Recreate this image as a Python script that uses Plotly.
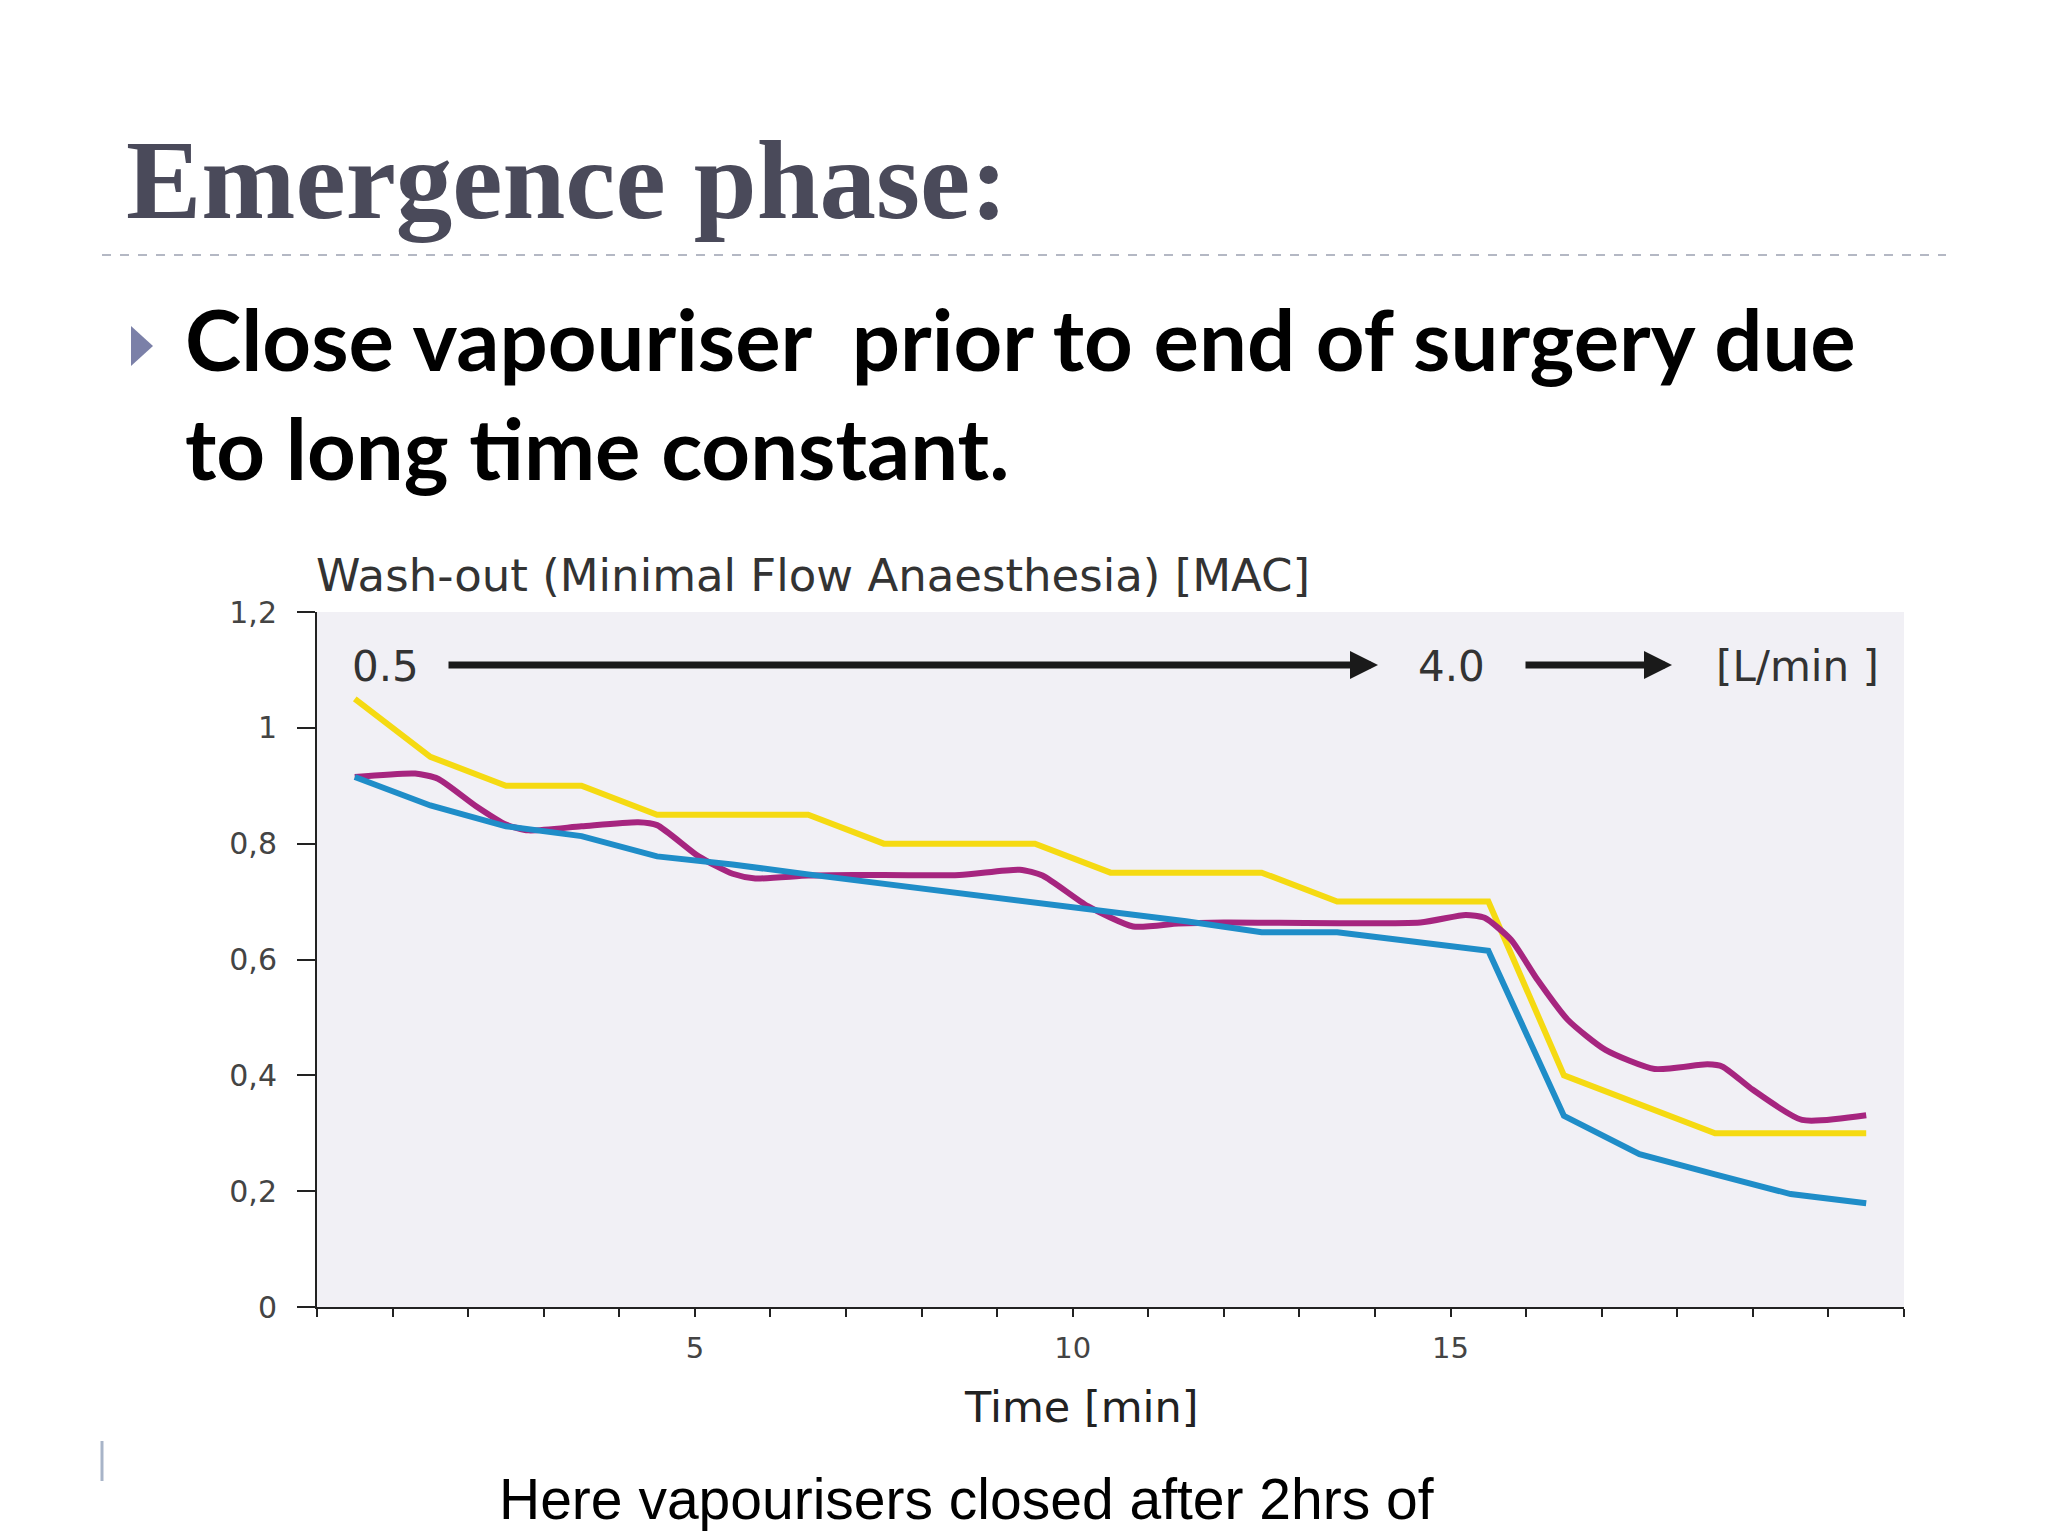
import plotly.graph_objects as go

# ---------------- data ----------------
time_min = [0.5, 1.5, 2.5, 3.5, 4.5, 5.5, 6.5, 7.5, 8.5, 9.5, 10.5,
            11.5, 12.5, 13.5, 14.5, 15.5, 16.5, 17.5, 18.5, 19.5, 20.5]
yellow_mac = [1.05, 0.95, 0.90, 0.90, 0.85, 0.85, 0.85, 0.80, 0.80, 0.80, 0.75,
              0.75, 0.75, 0.70, 0.70, 0.70, 0.40, 0.35, 0.30, 0.30, 0.30]
blue_mac = [0.915, 0.866, 0.830, 0.813, 0.778, 0.764, 0.747, 0.731, 0.715, 0.700, 0.683,
            0.666, 0.647, 0.647, 0.631, 0.615, 0.330, 0.264, 0.229, 0.195, 0.179]
magenta_time = [0.5, 1.3, 1.6, 2.1, 2.5, 2.8, 3.5, 4.25, 4.5, 5.05, 5.5, 5.8, 6.5, 7.1,
                8.5, 9.3, 9.6, 10.2, 10.8, 11.4, 12.0, 14.6, 15.2, 15.45, 15.8, 16.15,
                16.55, 17.05, 17.7, 18.4, 18.6, 19.0, 19.65, 20.5]
magenta_mac = [0.915, 0.921, 0.912, 0.865, 0.833, 0.823, 0.830, 0.837, 0.832, 0.778, 0.748,
               0.740, 0.745, 0.746, 0.746, 0.755, 0.745, 0.692, 0.657, 0.662, 0.664,
               0.664, 0.677, 0.672, 0.634, 0.565, 0.496, 0.444, 0.411, 0.419, 0.415,
               0.375, 0.323, 0.331]

y_tickvals = [0, 0.2, 0.4, 0.6, 0.8, 1.0, 1.2]
y_ticktext = ["0", "0,2", "0,4", "0,6", "0,8", "1", "1,2"]
x_tickvals = [5, 10, 15]
x_ticktext = ["5", "10", "15"]

slide_title = "Emergence phase:"
bullet_line1 = "Close vapouriser\u00a0\u00a0prior to end of surgery due"
bullet_line2 = "to long time constant."
chart_title = "Wash-out (Minimal Flow Anaesthesia) [MAC]"
x_title = "Time [min]"
footer = "Here vapourisers closed after 2hrs of"

# ---------------- geometry helpers (layout only) ----------------
W, H = 2048, 1536
L, R, T, B = 317, 2048 - 1904, 612, 1536 - 1307
PW, PH = W - L - R, H - T - B


def px(x):
    return (x - L) / PW


def py(y):
    return (H - B - y) / PH


YEL = "#f5da12"
MAG = "#a6257f"
BLU = "#1f8dc8"
LW = 6

fig = go.Figure()
fig.add_trace(go.Scatter(x=time_min, y=yellow_mac, mode="lines",
                         line=dict(color=YEL, width=LW), showlegend=False))
fig.add_trace(go.Scatter(x=magenta_time, y=magenta_mac, mode="lines",
                         line=dict(color=MAG, width=LW, shape="spline", smoothing=0.6),
                         showlegend=False))
fig.add_trace(go.Scatter(x=time_min, y=blue_mac, mode="lines",
                         line=dict(color=BLU, width=LW), showlegend=False))

chart_font = "DejaVu Sans"

fig.update_layout(
    width=W, height=H,
    margin=dict(l=L, r=R, t=T, b=B, pad=0),
    paper_bgcolor="white",
    plot_bgcolor="#f1f0f5",
    xaxis=dict(range=[0, 21], showgrid=False, zeroline=False,
               showline=True, linecolor="#222", linewidth=2,
               ticks="outside", ticklen=8, tickwidth=1.5, tickcolor="#222",
               tickmode="array", tickvals=x_tickvals, ticktext=x_ticktext,
               ticklabelstandoff=6,
               tickfont=dict(family=chart_font, size=29, color="#444"),
               minor=dict(tickmode="linear", tick0=0, dtick=1, ticks="outside",
                          ticklen=8, tickwidth=1.5, tickcolor="#222", showgrid=False)),
    yaxis=dict(range=[0, 1.2], showgrid=False, zeroline=False,
               showline=True, linecolor="#222", linewidth=2,
               ticks="outside", ticklen=18, tickwidth=1.5, tickcolor="#222",
               tickmode="array", tickvals=y_tickvals, ticktext=y_ticktext,
               ticklabelstandoff=14,
               tickfont=dict(family=chart_font, size=30, color="#444")),
)

ann = []
# slide title
ann.append(dict(text="<b>" + slide_title + "</b>", x=px(124), y=py(180), xref="paper",
                yref="paper", xanchor="left", yanchor="middle", showarrow=False,
                font=dict(family="Liberation Serif", size=113, color="#4a4a5a")))
# bullet text
ann.append(dict(text="<b>" + bullet_line1 + "</b>", x=px(183), y=py(338), xref="paper",
                yref="paper", xanchor="left", yanchor="middle", showarrow=False,
                font=dict(family="Lato", size=85, color="black")))
ann.append(dict(text="<b>" + bullet_line2 + "</b>", x=px(183), y=py(447), xref="paper",
                yref="paper", xanchor="left", yanchor="middle", showarrow=False,
                font=dict(family="Lato", size=85, color="black")))
# chart title
ann.append(dict(text=chart_title, x=px(314), y=py(575), xref="paper", yref="paper",
                xanchor="left", yanchor="middle", showarrow=False,
                font=dict(family=chart_font, size=45, color="#333")))
# flow labels
for txt, xc in [("0.5", 385), ("4.0", 1451), ("[L/min ]", 1797)]:
    ann.append(dict(text=txt, x=px(xc), y=py(666), xref="paper", yref="paper",
                    xanchor="center", yanchor="middle", showarrow=False,
                    font=dict(family=chart_font, size=42, color="#333")))
# arrows
for x0, x1 in [(447, 1378), (1524, 1672)]:
    ann.append(dict(text="", x=px(x1), y=py(665), ax=px(x0), ay=py(665),
                    xref="x domain", yref="y domain", axref="x domain", ayref="y domain",
                    showarrow=True, arrowhead=2, arrowsize=0.8, arrowwidth=7,
                    arrowcolor="#1a1a1a", standoff=0, startstandoff=0))
# x title
ann.append(dict(text=x_title, x=px(1081), y=py(1407), xref="paper", yref="paper",
                xanchor="center", yanchor="middle", showarrow=False,
                font=dict(family=chart_font, size=43, color="#222")))
# footer
ann.append(dict(text=footer, x=px(497), y=py(1499), xref="paper", yref="paper",
                xanchor="left", yanchor="middle", showarrow=False,
                font=dict(family="Liberation Sans", size=57, color="black")))
fig.update_layout(annotations=ann)

shapes = []
# dashed separator under title
shapes.append(dict(type="line", xref="paper", yref="paper", x0=px(102), x1=px(1946),
                   y0=py(255), y1=py(255), line=dict(color="#b4b8c4", width=2, dash="dash")))
# bullet triangle
shapes.append(dict(type="path", xref="paper", yref="paper",
                   path="M {} {} L {} {} L {} {} Z".format(px(131), py(326), px(153), py(346),
                                                           px(131), py(366)),
                   fillcolor="#7b80a8", line=dict(width=0)))
# small left bar at bottom
shapes.append(dict(type="line", xref="paper", yref="paper", x0=px(102), x1=px(102),
                   y0=py(1441), y1=py(1481), line=dict(color="#a8b4c8", width=3)))
fig.update_layout(shapes=shapes)

fig.write_html("out.html")
